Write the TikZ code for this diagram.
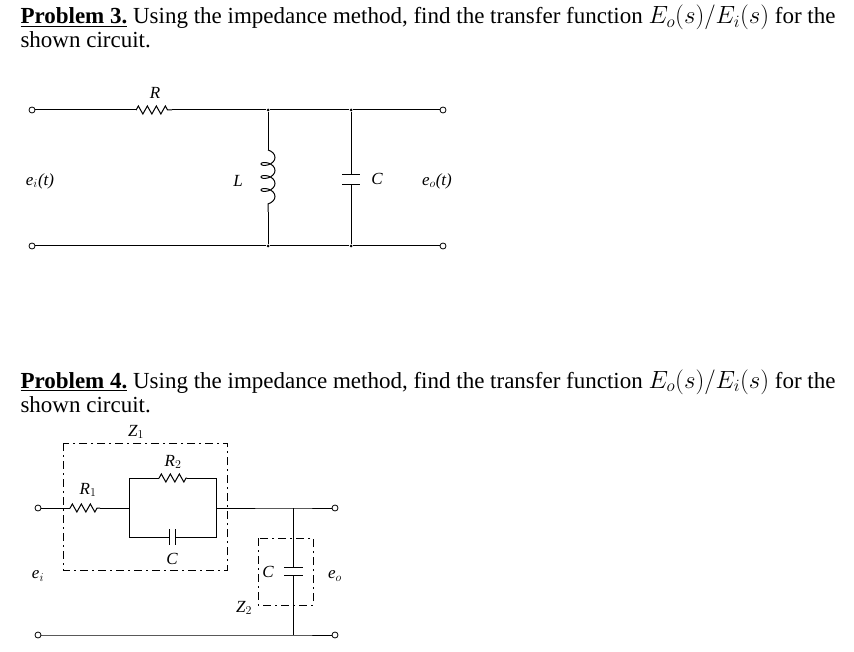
\documentclass[tikz,border=0pt]{standalone}
\usepackage{fontspec}
\setmainfont{Liberation Serif}
\usetikzlibrary{decorations.pathmorphing}
\begin{document}
\begin{tikzpicture}[x=1pt,y=-1pt,line width=1pt,
  term/.style={circle,draw,fill=white,inner sep=0pt,minimum size=6pt,line width=0.8pt},
  dot/.style={circle,fill,inner sep=0pt,minimum size=3pt},
  res/.style={decorate,decoration={zigzag,segment length=9pt,amplitude=4pt,pre length=0.1pt,post length=0.1pt}},
  ind/.style={decorate,decoration={coil,segment length=13pt,amplitude=7pt,aspect=0.6}},
  box/.style={dash pattern=on 8pt off 4pt on 2pt off 4pt,line width=0.9pt},
  lab/.style={font=\itshape\fontsize{17}{19}\selectfont,inner sep=1pt},
  head/.style={anchor=base west,inner sep=0pt,font=\fontsize{23}{27}\selectfont}]
\useasboundingbox (0,0) rectangle (854,652);
% headings
\node[head] (h3a) at (20,24) {\textbf{\underline{Problem 3.}} Using the impedance method, find the transfer function $E_o(s)/E_i(s)$ for the};
\node[head] (h3b) at (20,48) {shown circuit.};
\node[head] (h4a) at (20,388) {\textbf{\underline{Problem 4.}} Using the impedance method, find the transfer function $E_o(s)/E_i(s)$ for the};
\node[head] (h4b) at (20,412) {shown circuit.};
% ---------- Problem 3
\node[term] (a1) at (32,110) {};
\node[term] (a2) at (32,246) {};
\node[term] (b1) at (443,110) {};
\node[term] (b2) at (443,246) {};
\coordinate (r1) at (136,110); \coordinate (r2) at (172,110);
\node[dot] (jL) at (268,110) {}; \node[dot] (jC) at (351,110) {};
\node[dot] (kL) at (268,246) {}; \node[dot] (kC) at (351,246) {};
\coordinate (l1) at (268,150); \coordinate (l2) at (268,212);
\coordinate (c1) at (351,175); \coordinate (c2) at (351,185);
\draw (a1) -- (r1);
\draw[res] (r1) -- (r2);
\draw (r2) -- (jL) -- (jC) -- (b1);
\draw (a2) -- (kL) -- (kC) -- (b2);
\draw (jL) -- (l1);
\draw[ind] (l1) -- (l2);
\draw (l2) -- (kL);
\draw (jC) -- (c1); \draw (c2) -- (kC);
\draw (342,175) -- (360,175); \draw (342,185) -- (360,185);
\node[lab] (R) at (155,93) {R};
\node[lab] (L) at (238,181) {L};
\node[lab] (C) at (377,179) {C};
\node[lab] (ei) at (40,181) {e$_i$(t)};
\node[lab] (eo) at (437,181) {e$_o$(t)};
% ---------- Problem 4
\node[term] (p1) at (38,508) {};
\node[term] (p2) at (38,635) {};
\node[term] (q1) at (335,508) {};
\node[term] (q2) at (335,635) {};
\coordinate (s1) at (70,508); \coordinate (s2) at (100,508);
\coordinate (pl) at (129,508); \coordinate (pr) at (216,508);
\coordinate (t1) at (159,478); \coordinate (t2) at (187,478);
\coordinate (cl) at (169,537); \coordinate (cr) at (175,537);
\coordinate (J) at (293,508); \coordinate (K) at (293,635);
\coordinate (d1) at (293,567); \coordinate (d2) at (293,575);
\draw (p1) -- (s1);
\draw[res] (s1) -- (s2);
\draw (s2) -- (pl) -- (129,478) -- (t1);
\draw[res] (t1) -- (t2);
\draw (t2) -- (216,478) -- (pr) -- (J) -- (q1);
\draw (pl) -- (129,537) -- (cl);
\draw (cr) -- (216,537) -- (pr);
\draw (169,529) -- (169,545); \draw (175,529) -- (175,545);
\draw (J) -- (d1); \draw (d2) -- (K);
\draw (284,567) -- (303,567); \draw (284,575) -- (303,575);
\draw (p2) -- (K) -- (q2);
\draw[box] (63,443) rectangle (227,570);
\draw[box] (258,538) rectangle (313,605);
\node[lab] (Z1) at (136,432) {Z$_1$};
\node[lab] (R1) at (88,490) {R$_1$};
\node[lab] (R2) at (173,462) {R$_2$};
\node[lab] (C1) at (172,559) {C};
\node[lab] (C2) at (268,572) {C};
\node[lab,fill=white] (Z2) at (244,608) {Z$_2$};
\node[lab] (e4i) at (38,576) {e$_i$};
\node[lab] (e4o) at (335,576) {e$_o$};
\end{tikzpicture}
\end{document}
